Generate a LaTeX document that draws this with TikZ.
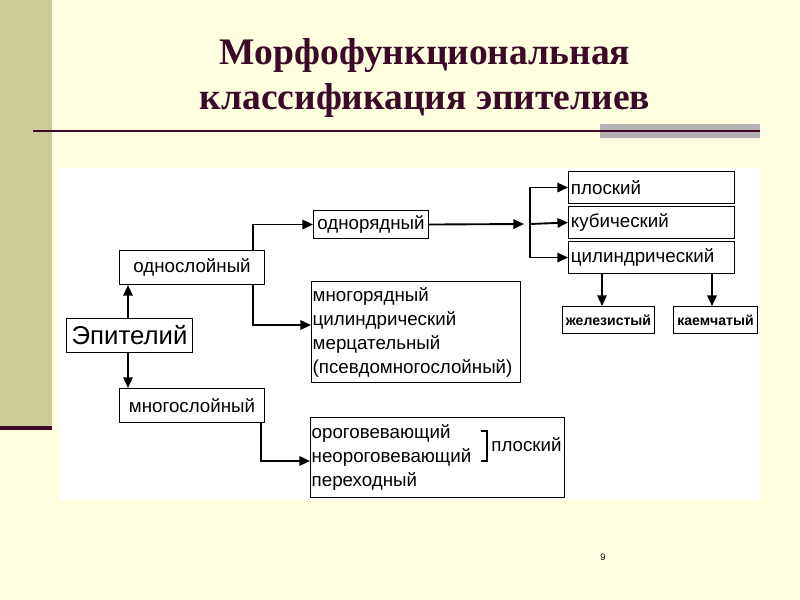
\documentclass[tikz,border=0pt]{standalone}
\usepackage{fontspec}
\setmainfont{Liberation Sans}
\newfontfamily\titlefont{Liberation Serif}
\usetikzlibrary{arrows.meta}
\definecolor{bgcream}{RGB}{255,255,224}
\definecolor{olivebar}{RGB}{204,204,153}
\definecolor{maroon}{RGB}{60,10,40}
\tikzstyle{box} = [rectangle, draw=black, line width=0.9pt, fill=white, anchor=north west, inner sep=2pt, align=left, font=\fontsize{16}{20.5}\selectfont]
\tikzstyle{small} = [rectangle, draw=black, line width=0.9pt, fill=white, anchor=north west, inner sep=1pt, align=center, font=\fontsize{12}{13}\selectfont\bfseries]
\tikzstyle{arrow} = [line width=1.6pt, -{Triangle[length=9pt,width=8pt]}]
\begin{document}
\begin{tikzpicture}[x=0.03cm, y=-0.03cm]
    \useasboundingbox (0,0) rectangle (800,600);
    \fill[bgcream] (0,0) rectangle (800,600);
    \fill[olivebar] (0,0) rectangle (52,428);
    \fill[maroon] (0,426) rectangle (52,430);
    \fill[gray!60] (600,124) rectangle (760,138);
    \draw[maroon, line width=1.2pt] (33,131) -- (760,131);
    \fill[white] (60,168) rectangle (760,500);

    \node[font=\titlefont\bfseries\fontsize{32}{39}\selectfont, text=maroon, align=center] (title) at (425,78)
        {Морфофункциональная\\классификация эпителиев};

    \node[box, minimum width=126*0.03cm, minimum height=34*0.03cm, font=\fontsize{22}{24}\selectfont] (epi) at (66,318) {Эпителий};
    \node[box, minimum width=145*0.03cm, minimum height=34*0.03cm, inner sep=4pt] (single) at (119,250) {однослойный};
    \node[box, minimum width=145*0.03cm, minimum height=34*0.03cm, inner sep=4pt] (multi) at (119,388) {многослойный};
    \node[box, minimum width=115*0.03cm, minimum height=28*0.03cm, inner sep=1pt] (onerow) at (313,210) {однорядный};
    \node[box, text width=207*0.03cm, minimum height=101*0.03cm, inner sep=1pt] (multirow) at (311,281)
        {многорядный\\цилиндрический\\мерцательный\\(псевдомногослойный)};
    \node[box, text width=252*0.03cm, minimum height=80*0.03cm, inner sep=1pt] (strat) at (310,417)
        {ороговевающий\\неороговевающий\\переходный};
    \node[font=\fontsize{16}{17}\selectfont, anchor=west, inner sep=1pt] (flatb) at (490,445) {плоский};
    \draw[line width=1.6pt] (481,431) -- (487,431) -- (487,461) -- (481,461);

    \node[box, text width=161*0.03cm, minimum height=32*0.03cm] (flat) at (568,171) {плоский};
    \node[box, text width=161*0.03cm, minimum height=32*0.03cm] (cube) at (568,206) {кубический};
    \node[box, text width=161*0.03cm, minimum height=32*0.03cm] (cyl) at (568,241) {цилиндрический};
    \node[small, minimum width=92*0.03cm, minimum height=27*0.03cm] (gland) at (562,306) {железистый};
    \node[small, minimum width=84*0.03cm, minimum height=27*0.03cm] (border) at (673,306) {каемчатый};
    \coordinate (split) at (530,224);

    \node[font=\fontsize{8}{10}\selectfont] (page) at (603,557) {9};

    \draw[arrow] (epi.north -| 128,0) -- (single.south -| 128,0);
    \draw[arrow] (epi.south -| 128,0) -- (multi.north -| 128,0);
    \draw[arrow] (single.north -| 253,0) |- (onerow.west);
    \draw[arrow] (single.south -| 253,0) |- (multirow.west |- 0,325);
    \draw[arrow] (multi.south -| 261,0) |- (strat.west |- 0,461);
    \draw[arrow] (onerow.east) -- (split -| 524,0);
    \draw[arrow] (split) |- (flat.west);
    \draw[arrow] (split) -- (cube.west);
    \draw[arrow] (split) |- (cyl.west);
    \draw[arrow] (cyl.south -| 602,0) -- (gland.north -| 602,0);
    \draw[arrow] (cyl.south -| 712,0) -- (border.north -| 712,0);
\end{tikzpicture}
\end{document}
